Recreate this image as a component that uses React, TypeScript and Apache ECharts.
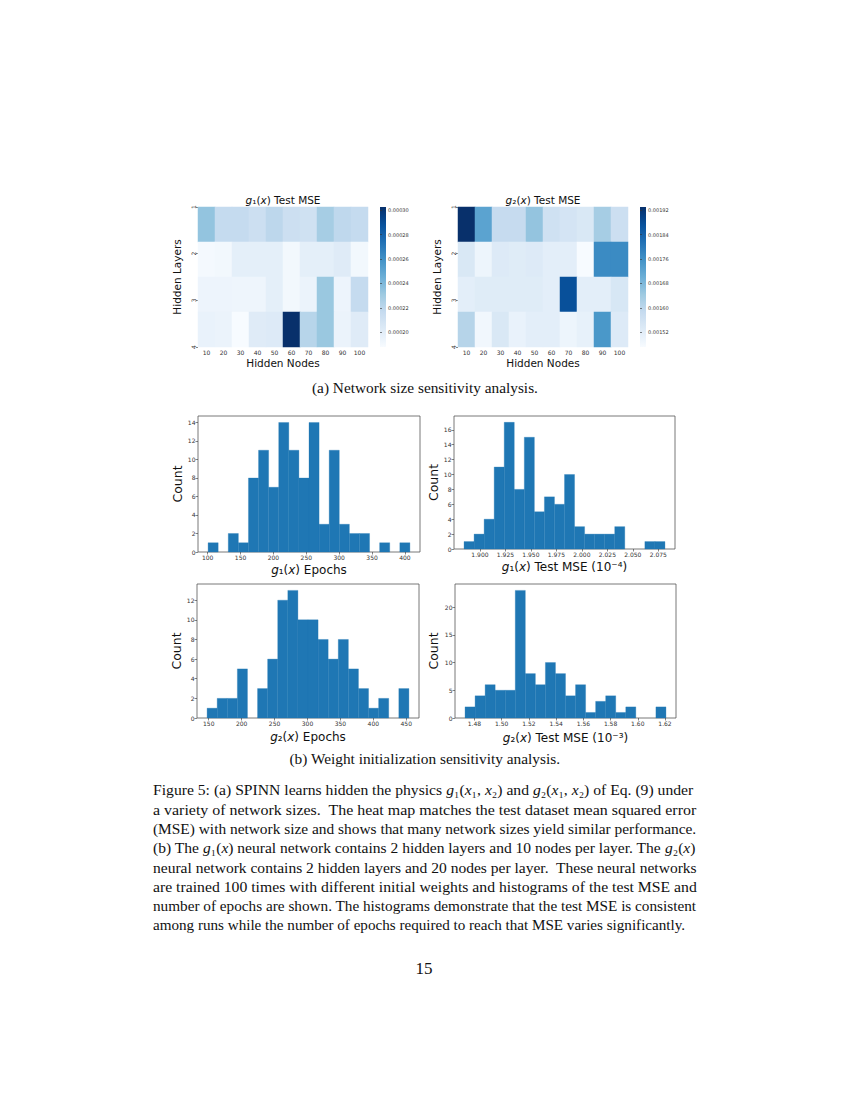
import React, { useEffect, useRef } from 'react';
import * as echarts from 'echarts';

// ---------- Heatmap data ----------
const nodes = ['10', '20', '30', '40', '50', '60', '70', '80', '90', '100'];
const layers = ['1', '2', '3', '4'];

// g1(x) test MSE, rows = hidden layers 1..4, cols = hidden nodes 10..100
const g1Row1 = [2.34e-4, 2.17e-4, 2.17e-4, 2.13e-4, 2.2e-4, 2.13e-4, 2.11e-4, 2.28e-4, 2.19e-4, 2.17e-4];
const g1Row2 = [1.9e-4, 1.91e-4, 1.99e-4, 1.99e-4, 1.99e-4, 1.91e-4, 1.99e-4, 1.99e-4, 2.02e-4, 1.91e-4];
const g1Row3 = [1.94e-4, 1.94e-4, 1.93e-4, 1.93e-4, 1.99e-4, 1.91e-4, 1.95e-4, 2.32e-4, 1.94e-4, 2.17e-4];
const g1Row4 = [1.96e-4, 1.95e-4, 1.88e-4, 2.02e-4, 2.03e-4, 3.025e-4, 2.22e-4, 2.32e-4, 1.95e-4, 2.02e-4];

// g2(x) test MSE
const g2Row1 = [1.93e-3, 1.724e-3, 1.587e-3, 1.587e-3, 1.655e-3, 1.564e-3, 1.554e-3, 1.541e-3, 1.632e-3, 1.573e-3];
const g2Row2 = [1.541e-3, 1.495e-3, 1.532e-3, 1.527e-3, 1.532e-3, 1.518e-3, 1.518e-3, 1.472e-3, 1.77e-3, 1.77e-3];
const g2Row3 = [1.518e-3, 1.527e-3, 1.527e-3, 1.527e-3, 1.527e-3, 1.518e-3, 1.875e-3, 1.518e-3, 1.518e-3, 1.545e-3];
const g2Row4 = [1.609e-3, 1.486e-3, 1.541e-3, 1.504e-3, 1.518e-3, 1.518e-3, 1.495e-3, 1.509e-3, 1.747e-3, 1.532e-3];

const cb1Ticks = [0.0002, 0.00022, 0.00024, 0.00026, 0.00028, 0.0003];
const cb2Ticks = [0.00152, 0.0016, 0.00168, 0.00176, 0.00184, 0.00192];

// ---------- Histogram data ----------
const h1Start = 100.6;
const h1Width = 15.35;
const h1Counts = [1, 0, 2, 1, 8, 11, 7, 14, 11, 8, 14, 3, 11, 3, 2, 2, 0, 1, 0, 1];
const h1XTicks = [100, 150, 200, 250, 300, 350, 400];
const h1YTicks = [0, 2, 4, 6, 8, 10, 12, 14];

const h2Start = 1.8844;
const h2Width = 0.009855;
const h2Counts = [1, 2, 4, 11, 17, 8, 15, 5, 7, 6, 10, 3, 2, 2, 2, 3, 0, 0, 1, 1];
const h2XTicks = [1.9, 1.925, 1.95, 1.975, 2.0, 2.025, 2.05, 2.075];
const h2YTicks = [0, 2, 4, 6, 8, 10, 12, 14, 16];

const h3Start = 147.5;
const h3Width = 15.33;
const h3Counts = [1, 2, 2, 5, 0, 3, 6, 12, 13, 10, 10, 8, 6, 8, 5, 3, 1, 2, 0, 3];
const h3XTicks = [150, 200, 250, 300, 350, 400, 450];
const h3YTicks = [0, 2, 4, 6, 8, 10, 12];

const h4Start = 1.4731;
const h4Width = 0.00738;
const h4Counts = [2, 4, 6, 5, 5, 23, 8, 6, 10, 8, 4, 6, 1, 3, 4, 1, 2, 0, 0, 2];
const h4XTicks = [1.48, 1.5, 1.52, 1.54, 1.56, 1.58, 1.6, 1.62];
const h4YTicks = [0, 5, 10, 15, 20];

// ---------- Text ----------
const captionLines = [
  'Figure 5: (a) SPINN learns hidden the physics {i|g}₁({i|x}₁, {i|x}₂) and {i|g}₂({i|x}₁, {i|x}₂) of Eq. (9) under',
  'a variety of network sizes.  The heat map matches the test dataset mean squared error',
  '(MSE) with network size and shows that many network sizes yield similar performance.',
  '(b) The {i|g}₁({i|x}) neural network contains 2 hidden layers and 10 nodes per layer. The {i|g}₂({i|x})',
  'neural network contains 2 hidden layers and 20 nodes per layer.  These neural networks',
  'are trained 100 times with different initial weights and histograms of the test MSE and',
  'number of epochs are shown. The histograms demonstrate that the test MSE is consistent',
  'among runs while the number of epochs required to reach that MSE varies significantly.',
];
const subCaptionA = '(a) Network size sensitivity analysis.';
const subCaptionB = '(b) Weight initialization sensitivity analysis.';
const pageNumber = '15';

const BLUES = ['#f7fbff', '#deebf7', '#c6dbef', '#9ecae1', '#6baed6', '#4292c6', '#2171b5', '#08519c', '#08306b'];
const SANS = 'DejaVu Sans';
const SERIF = 'Liberation Serif';
const BAR = '#1f77b4';
const TICKC = '#333';

function toCells(rows: number[][]) {
  const out: any[] = [];
  rows.forEach((r, yi) => r.forEach((v, xi) => out.push([xi, yi, v])));
  return out;
}
function toBins(start: number, width: number, counts: number[]) {
  return counts.map((c, i) => [start + i * width, start + (i + 1) * width, c]);
}

export default function App() {
  const ref = useRef<HTMLDivElement>(null);
  useEffect(() => {
    if (!ref.current) return;
    const chart = echarts.init(ref.current, null, { renderer: 'svg' });

    const canvas = document.createElement('canvas');
    const ctx = canvas.getContext('2d')!;
    const measure = (t: string, font: string) => {
      ctx.font = font;
      return ctx.measureText(t.replace(/\{i\|([^}]*)\}/g, '$1')).width;
    };

    const g1Rows = [g1Row1, g1Row2, g1Row3, g1Row4];
    const g2Rows = [g2Row1, g2Row2, g2Row3, g2Row4];
    const g1Min = Math.min(...g1Rows.flat());
    const g1Max = Math.max(...g1Rows.flat());
    const g2Min = Math.min(...g2Rows.flat());
    const g2Max = Math.max(...g2Rows.flat());

    const hists = [
      { start: h1Start, width: h1Width, counts: h1Counts, xt: h1XTicks, yt: h1YTicks, fmt: (v: number) => String(v), grid: { left: 198, top: 416, width: 222, height: 136 }, name: '{i|g}₁({i|x}) Epochs', xGap: 12, yGap: 14 },
      { start: h2Start, width: h2Width, counts: h2Counts, xt: h2XTicks, yt: h2YTicks, fmt: (v: number) => v.toFixed(3), grid: { left: 454, top: 416, width: 221, height: 133 }, name: '{i|g}₁({i|x}) Test MSE (10⁻⁴)', xGap: 12, yGap: 13 },
      { start: h3Start, width: h3Width, counts: h3Counts, xt: h3XTicks, yt: h3YTicks, fmt: (v: number) => String(v), grid: { left: 197, top: 584, width: 222, height: 134 }, name: '{i|g}₂({i|x}) Epochs', xGap: 13, yGap: 14 },
      { start: h4Start, width: h4Width, counts: h4Counts, xt: h4XTicks, yt: h4YTicks, fmt: (v: number) => v.toFixed(2), grid: { left: 455, top: 584, width: 221, height: 134 }, name: '{i|g}₂({i|x}) Test MSE (10⁻³)', xGap: 14, yGap: 15 },
    ];

    const richSans = (fs: number) => ({
      i: { fontStyle: 'italic', fontSize: fs, fontFamily: SANS, color: '#111' },
    });

    const grids: any[] = [
      { left: 198, top: 207, width: 170, height: 140, show: false },
      { left: 458, top: 207, width: 170, height: 140, show: false },
      { left: 380, top: 207, width: 6, height: 140, show: false },
      { left: 640, top: 207, width: 6, height: 140, show: false },
      ...hists.map((h) => ({ ...h.grid, show: true, borderColor: '#555', borderWidth: 0.8, backgroundColor: 'transparent' })),
    ];

    const heatX = (gi: number) => ({
      type: 'category', gridIndex: gi, data: nodes,
      axisLine: { show: false },
      axisTick: { show: true, alignWithLabel: true, length: 2, lineStyle: { color: TICKC, width: 0.6 } },
      axisLabel: { fontSize: 6, color: TICKC, margin: 2, fontFamily: SANS, interval: 0 },
      splitLine: { show: false },
      name: 'Hidden Nodes', nameLocation: 'middle', nameGap: 10,
      nameTextStyle: { fontSize: 10.5, fontFamily: SANS, color: '#111' },
    });
    const heatYcat = (gi: number) => ({
      type: 'category', gridIndex: gi, data: layers, inverse: true, position: 'right',
      axisLine: { show: false }, axisTick: { show: false }, axisLabel: { show: false }, splitLine: { show: false },
    });
    const heatYval = (gi: number) => ({
      type: 'value', gridIndex: gi, min: 0, max: 3, interval: 1, inverse: true, position: 'left', offset: 0,
      axisLine: { show: false },
      axisTick: { show: true, length: 2, lineStyle: { color: TICKC, width: 0.6 } },
      axisLabel: { fontSize: 6, color: TICKC, margin: 1.5, rotate: 90, fontFamily: SANS, formatter: (v: number) => layers[v] },
      splitLine: { show: false },
      name: 'Hidden Layers', nameLocation: 'middle', nameGap: 16, nameRotate: 90,
      nameTextStyle: { fontSize: 10.5, fontFamily: SANS, color: '#111' },
    });
    const cbY = (gi: number, min: number, max: number, ticks: number[]) => ({
      type: 'value', gridIndex: gi, position: 'right', min, max,
      axisLine: { show: false },
      axisTick: { show: true, length: 2, customValues: ticks, lineStyle: { color: TICKC, width: 0.6 } },
      axisLabel: { fontSize: 5, color: TICKC, margin: 2, fontFamily: SANS, customValues: ticks, formatter: (v: number) => v.toFixed(5) },
      splitLine: { show: false },
    });

    const xAxes: any[] = [
      heatX(0), heatX(1),
      { type: 'value', gridIndex: 2, show: false, min: 0, max: 1 },
      { type: 'value', gridIndex: 3, show: false, min: 0, max: 1 },
    ];
    const yAxes: any[] = [
      heatYcat(0), heatYval(0), heatYcat(1), heatYval(1),
      cbY(2, g1Min, g1Max, cb1Ticks), cbY(3, g2Min, g2Max, cb2Ticks),
    ];

    const series: any[] = [
      { type: 'heatmap', xAxisIndex: 0, yAxisIndex: 0, data: toCells(g1Rows), itemStyle: { borderWidth: 0 } },
      { type: 'heatmap', xAxisIndex: 1, yAxisIndex: 2, data: toCells(g2Rows), itemStyle: { borderWidth: 0 } },
    ];

    hists.forEach((h, k) => {
      const lo = h.start;
      const hi = h.start + h.counts.length * h.width;
      const pad = (hi - lo) * 0.05;
      const ymax = Math.max(...h.counts) * 1.05;
      xAxes.push({
        type: 'value', gridIndex: 4 + k, min: lo - pad, max: hi + pad,
        axisLine: { show: false },
        axisTick: { show: true, length: 2.5, customValues: h.xt, lineStyle: { color: TICKC, width: 0.6 } },
        axisLabel: { fontSize: 6, color: TICKC, margin: 2.5, fontFamily: SANS, customValues: h.xt, formatter: h.fmt },
        splitLine: { show: false },
        name: h.name, nameLocation: 'middle', nameGap: h.xGap,
        nameTextStyle: { fontSize: 12, fontFamily: SANS, color: '#111', rich: richSans(12) },
      });
      yAxes.push({
        type: 'value', gridIndex: 4 + k, min: 0, max: ymax,
        axisLine: { show: false },
        axisTick: { show: true, length: 2.5, customValues: h.yt, lineStyle: { color: TICKC, width: 0.6 } },
        axisLabel: { fontSize: 6, color: TICKC, margin: 2.5, fontFamily: SANS, customValues: h.yt },
        splitLine: { show: false },
        name: 'Count', nameLocation: 'middle', nameGap: h.yGap, nameRotate: 90,
        nameTextStyle: { fontSize: 12.5, fontFamily: SANS, color: '#111' },
      });
      series.push({
        type: 'custom', xAxisIndex: 4 + k, yAxisIndex: 6 + k,
        data: toBins(h.start, h.width, h.counts),
        encode: { x: [0, 1], y: 2 },
        renderItem: (params: any, api: any) => {
          const c = api.value(2);
          if (!c) return null;
          const p0 = api.coord([api.value(0), 0]);
          const p1 = api.coord([api.value(1), c]);
          return {
            type: 'rect',
            shape: { x: p0[0], y: p1[1], width: p1[0] - p0[0], height: p0[1] - p1[1] },
            style: { fill: BAR, stroke: BAR, lineWidth: 0.3 },
          };
        },
      });
    });

    // Texts (graphic)
    const graphics: any[] = [];
    const heatTitle = (cx: number, t: string) => ({
      type: 'text', x: cx, y: 200,
      style: {
        text: t, fontSize: 10.5, fontFamily: SANS, fill: '#111', align: 'center', verticalAlign: 'middle',
        rich: { i: { fontStyle: 'italic', fontSize: 10.5, fontFamily: SANS, fill: '#111' } },
      },
    });
    graphics.push(heatTitle(283, '{i|g}₁({i|x}) Test MSE'));
    graphics.push(heatTitle(543, '{i|g}₂({i|x}) Test MSE'));

    // colour bars (gradient of the Blues palette, legend for the visualMaps)
    const colorBar = (x: number) => ({
      type: 'rect', x, y: 207, shape: { x: 0, y: 0, width: 6, height: 140 },
      style: {
        fill: new echarts.graphic.LinearGradient(0, 1, 0, 0,
          BLUES.map((c, i) => ({ offset: i / (BLUES.length - 1), color: c }))),
      },
    });
    graphics.push(colorBar(380));
    graphics.push(colorBar(640));

    const fitText = (t: string, cx: number | null, left: number, y: number, target: number, fs = 15) => {
      const w = measure(t, `${fs}px "${SERIF}"`);
      const s = target / w;
      return {
        type: 'text',
        x: cx !== null ? cx - target / 2 : left,
        y,
        scaleX: s,
        style: {
          text: t, fontSize: fs, fontFamily: SERIF, fill: '#111', align: 'left', verticalAlign: 'middle',
          rich: { i: { fontStyle: 'italic', fontSize: fs, fontFamily: SERIF, fill: '#111' } },
        },
      };
    };
    graphics.push(fitText(subCaptionA, 425, 0, 388, 226));
    graphics.push(fitText(subCaptionB, 425, 0, 759, 271));
    captionLines.forEach((l, i) => {
      const target = i === captionLines.length - 1 ? 533 : 544;
      graphics.push(fitText(l, null, 153, 790 + i * 19.3, target));
    });
    graphics.push({
      type: 'text', x: 424, y: 968,
      style: { text: pageNumber, fontSize: 17, fontFamily: SERIF, fill: '#111', align: 'center', verticalAlign: 'middle' },
    });

    chart.setOption({
      animation: false,
      backgroundColor: '#fff',
      textStyle: { fontFamily: SANS },
      grid: grids,
      xAxis: xAxes,
      yAxis: yAxes,
      visualMap: [
        {
          type: 'continuous', seriesIndex: 0, dimension: 2, min: g1Min, max: g1Max,
          inRange: { color: BLUES }, show: false,
        },
        {
          type: 'continuous', seriesIndex: 1, dimension: 2, min: g2Min, max: g2Max,
          inRange: { color: BLUES }, show: false,
        },
      ],
      graphic: graphics,
      series,
    });

    return () => chart.dispose();
  }, []);

  return (
    <div
      ref={ref}
      style={{ position: 'absolute', left: 0, top: 0, width: 850, height: 1100, background: '#fff' }}
    />
  );
}
